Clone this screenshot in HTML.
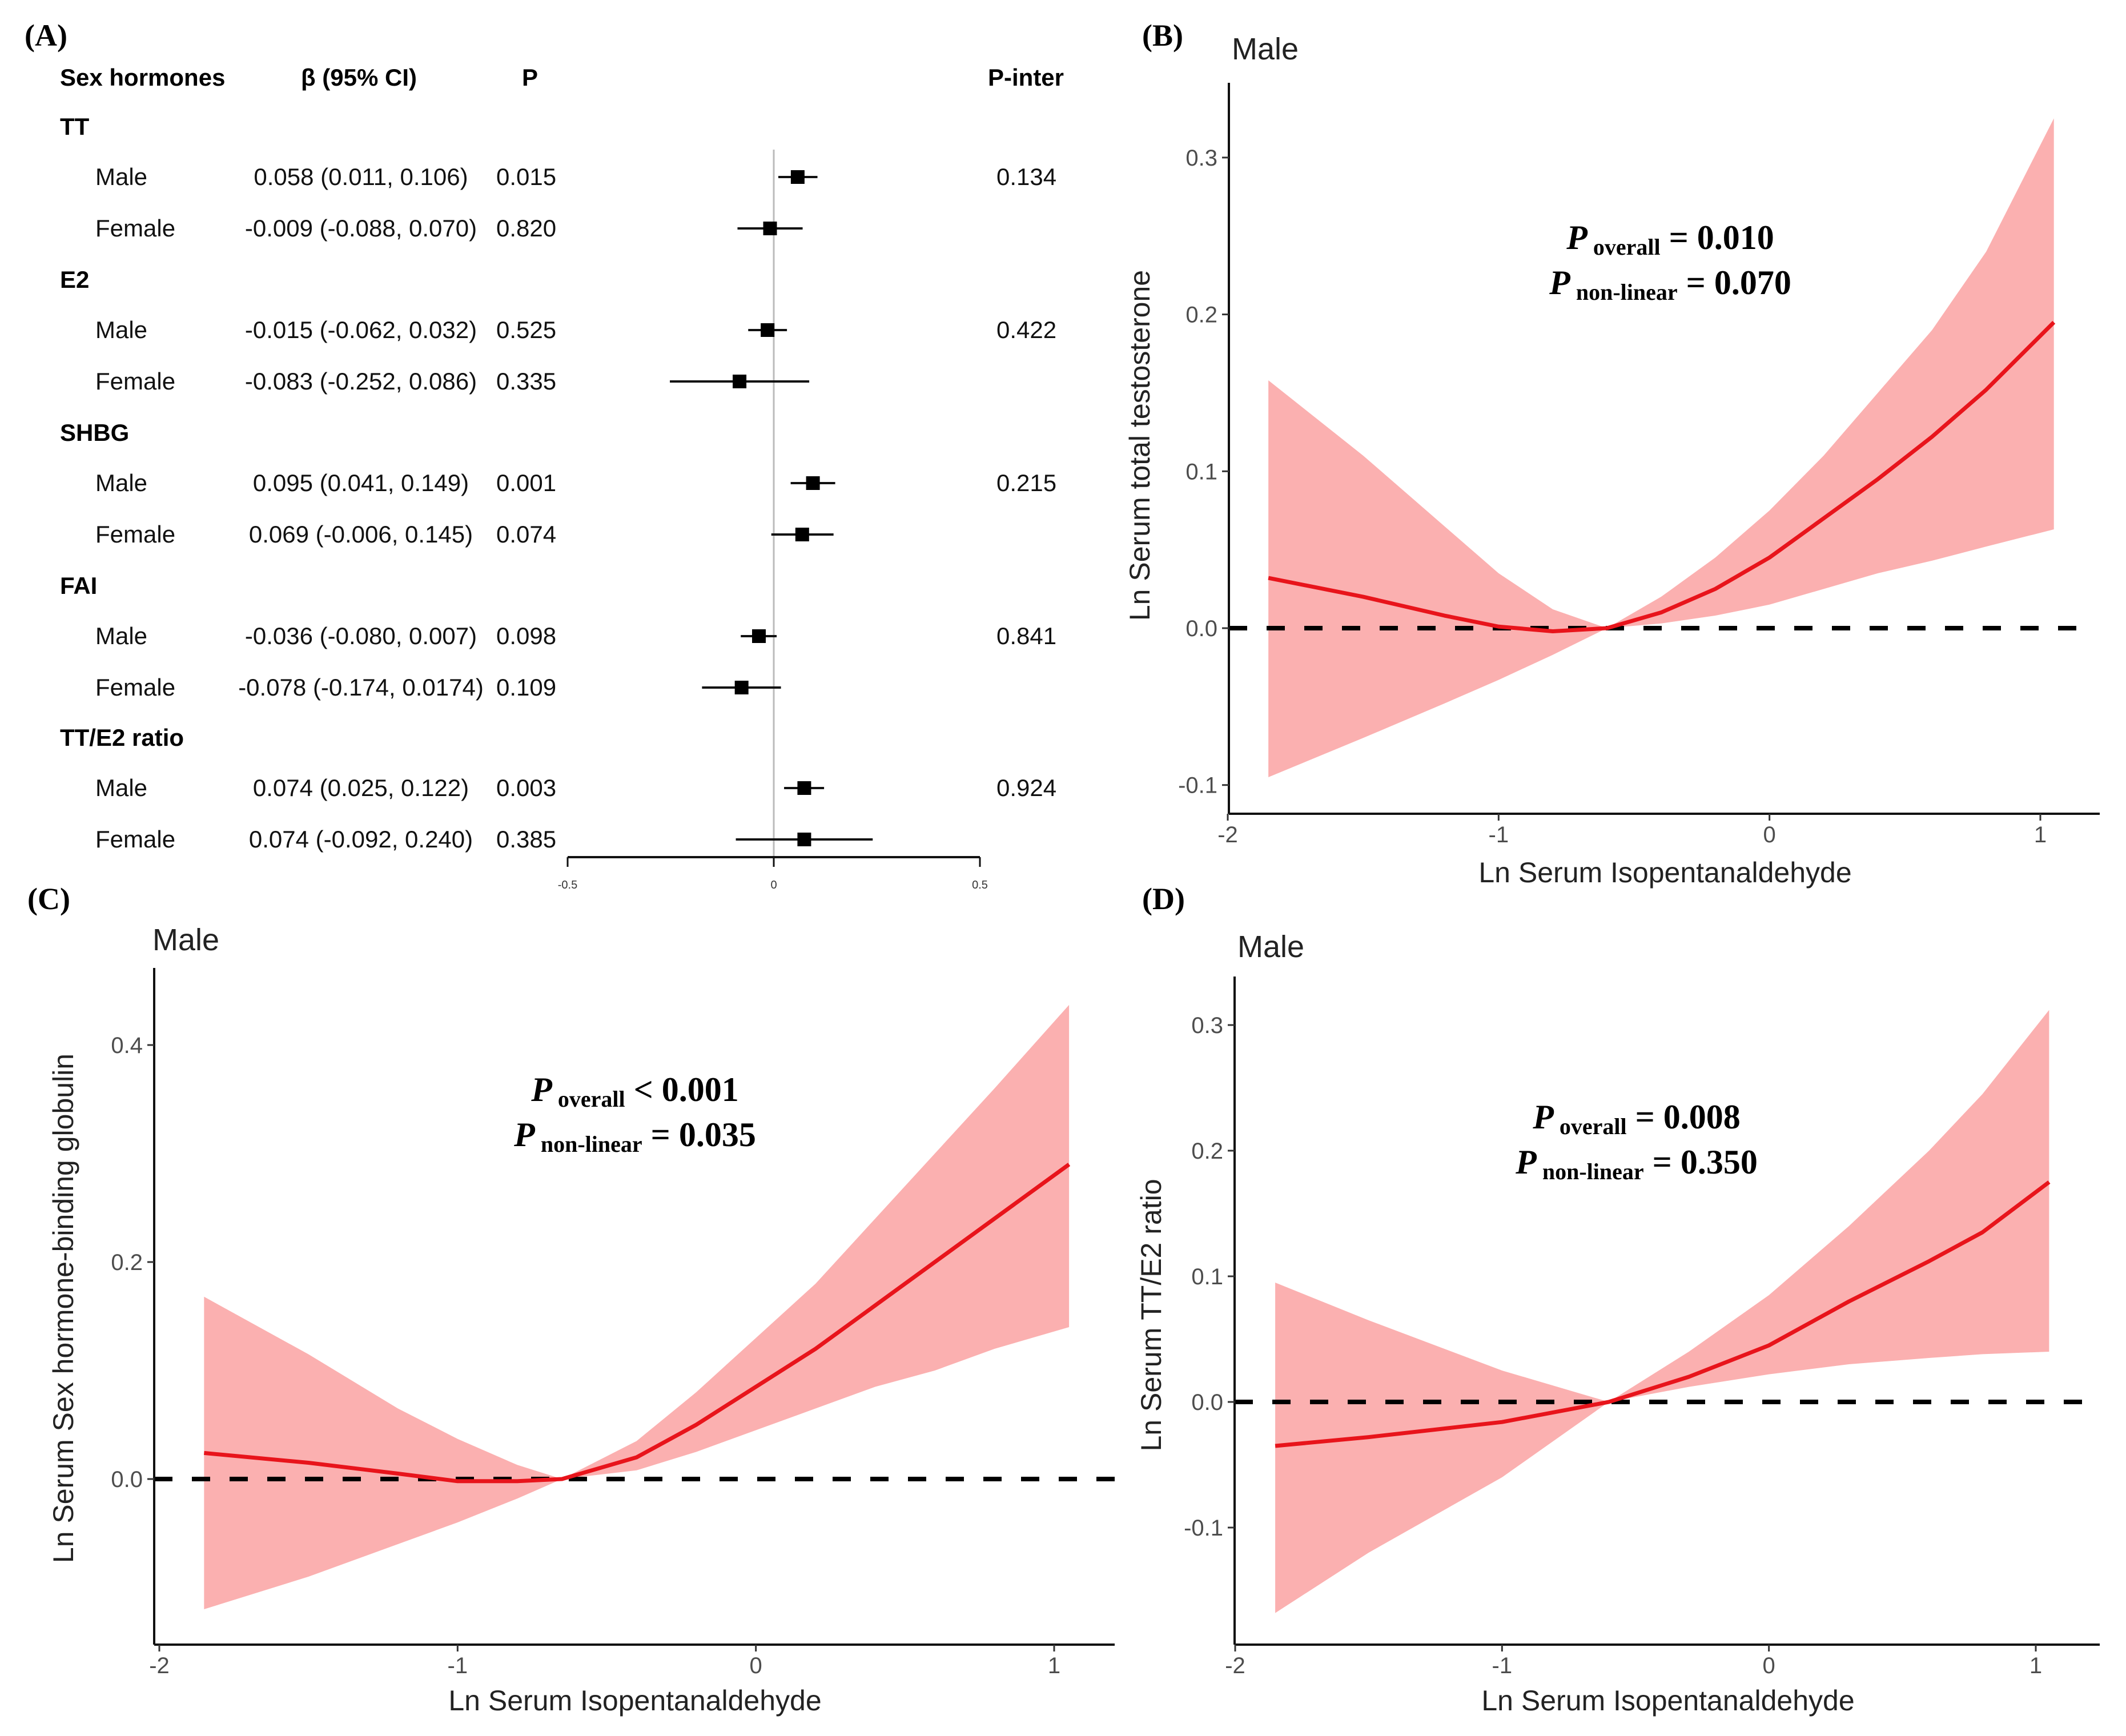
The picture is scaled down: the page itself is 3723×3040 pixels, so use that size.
<!DOCTYPE html>
<html><head><meta charset="utf-8"><style>
html,body{margin:0;padding:0;background:#fff;}
svg{display:block;}
.sans{font-family:"Liberation Sans",Arial,sans-serif;}
.serif{font-family:"Liberation Serif","Times New Roman",serif;}
</style></head><body>
<svg id="fig" width="3723" height="3040" viewBox="0 0 3723 3040" xmlns="http://www.w3.org/2000/svg">
<rect width="3723" height="3040" fill="#fff"/>
<g id="panelA"></g>
<g id="panelB"></g>
<g id="panelC"></g>
<g id="panelD"></g>
</svg>
<script>
// ---- Forest plot data ----
const groups = ["TT","E2","SHBG","FAI","TT/E2 ratio"];
const sexes = ["Male","Female"];
const betas = [0.058,-0.009,-0.015,-0.083,0.095,0.069,-0.036,-0.078,0.074,0.074];
const ciLow = [0.011,-0.088,-0.062,-0.252,0.041,-0.006,-0.080,-0.174,0.025,-0.092];
const ciHigh = [0.106,0.070,0.032,0.086,0.149,0.145,0.007,0.0174,0.122,0.240];
const betaText = ["0.058 (0.011, 0.106)","-0.009 (-0.088, 0.070)","-0.015 (-0.062, 0.032)","-0.083 (-0.252, 0.086)","0.095 (0.041, 0.149)","0.069 (-0.006, 0.145)","-0.036 (-0.080, 0.007)","-0.078 (-0.174, 0.0174)","0.074 (0.025, 0.122)","0.074 (-0.092, 0.240)"];
const pVals = ["0.015","0.820","0.525","0.335","0.001","0.074","0.098","0.109","0.003","0.385"];
const pInter = ["0.134","0.422","0.215","0.841","0.924"];
const forestTicks = [-0.5,0,0.5];
const forestTickLabels = ["-0.5","0","0.5"];

// ---- Panel B ----
const bX = [-1.85,-1.5,-1.2,-1.0,-0.8,-0.6,-0.4,-0.2,0,0.2,0.4,0.6,0.8,1.05];
const bFit = [0.032,0.02,0.008,0.001,-0.002,0.0,0.01,0.025,0.045,0.07,0.095,0.122,0.152,0.195];
const bUp = [0.158,0.11,0.065,0.035,0.012,0.0,0.02,0.045,0.075,0.11,0.15,0.19,0.24,0.325];
const bLo = [-0.095,-0.07,-0.048,-0.033,-0.017,0.0,0.003,0.008,0.015,0.025,0.035,0.043,0.052,0.063];
const bYTicks = [-0.1,0,0.1,0.2,0.3];
const bYLabels = ["-0.1","0.0","0.1","0.2","0.3"];
// ---- Panel C ----
const cX = [-1.85,-1.5,-1.2,-1.0,-0.8,-0.65,-0.4,-0.2,0,0.2,0.4,0.6,0.8,1.05];
const cFit = [0.024,0.015,0.005,-0.002,-0.002,0,0.02,0.05,0.085,0.12,0.16,0.2,0.24,0.29];
const cUp = [0.168,0.115,0.065,0.037,0.013,0,0.035,0.08,0.13,0.18,0.24,0.3,0.36,0.437];
const cLo = [-0.12,-0.09,-0.06,-0.04,-0.018,0,0.008,0.025,0.045,0.065,0.085,0.1,0.12,0.14];
const cYTicks = [0,0.2,0.4];
const cYLabels = ["0.0","0.2","0.4"];
// ---- Panel D ----
const dX = [-1.85,-1.5,-1.0,-0.6,-0.3,0,0.3,0.6,0.8,1.05];
const dFit = [-0.035,-0.028,-0.016,0,0.02,0.045,0.08,0.112,0.135,0.175];
const dUp = [0.095,0.065,0.025,0,0.04,0.085,0.14,0.2,0.245,0.312];
const dLo = [-0.168,-0.12,-0.06,0,0.012,0.022,0.03,0.035,0.038,0.04];
const dYTicks = [-0.1,0,0.1,0.2,0.3];
const dYLabels = ["-0.1","0.0","0.1","0.2","0.3"];
const xTicks = [-2,-1,0,1];
const xTickLabels = ["-2","-1","0","1"];

const NS="http://www.w3.org/2000/svg";
function mk(parent,tag,attrs,text){const e=document.createElementNS(NS,tag);for(const k in attrs)e.setAttribute(k,attrs[k]);if(text!==undefined)e.textContent=text;parent.appendChild(e);return e;}

// ---- Forest plot ----
(function(){
  const g=document.getElementById('panelA');
  const fx=v=>1355+(v)*(1716-1355)/0.5;
  let t;
  t=mk(g,'text',{x:43,y:80,'font-size':54,'font-weight':'bold',class:'serif'},'(A)');
  
  const hdr=[[105,'Sex hormones'],[527,'β (95% CI)'],[914,'P'],[1730,'P-inter']];
  hdr.forEach(h=>{const e=mk(g,'text',{x:h[0],y:150,'font-size':42,'font-weight':'bold',class:'sans'},h[1]);
    });
  const zl=mk(g,'line',{x1:fx(0),x2:fx(0),y1:262,y2:1501,stroke:'#bbb','stroke-width':3});
  
  const groupY=[222,490,758,1026,1292];
  groups.forEach((gn,gi)=>{
    const e=mk(g,'text',{x:105,y:groupY[gi]+14,'font-size':42,'font-weight':'bold',class:'sans'},gn);
    
    sexes.forEach((s,si)=>{
      const i=gi*2+si;
      const y=groupY[gi]+88+si*90;
      const a=mk(g,'text',{x:167,y:y+14,'font-size':42,class:'sans',fill:'#111'},s);
      
      const b=mk(g,'text',{x:632,y:y+14,'font-size':42,class:'sans','text-anchor':'middle',fill:'#111'},betaText[i]);
      
      const p=mk(g,'text',{x:869,y:y+14,'font-size':42,class:'sans',fill:'#111'},pVals[i]);
      
      const ci=mk(g,'line',{x1:fx(ciLow[i]),x2:fx(ciHigh[i]),y1:y,y2:y,stroke:'#111','stroke-width':4});
      
      const sq=mk(g,'rect',{x:fx(betas[i])-12,y:y-12,width:24,height:24,fill:'#000'});
      
      if(si===0){const pi=mk(g,'text',{x:1745,y:y+14,'font-size':42,class:'sans',fill:'#111'},pInter[gi]);
        }
    });
  });
  const ax=mk(g,'line',{x1:fx(-0.5),x2:fx(0.5),y1:1501,y2:1501,stroke:'#111','stroke-width':4});
  
  forestTicks.forEach((v,k)=>{
    const tk=mk(g,'line',{x1:fx(v),x2:fx(v),y1:1501,y2:1518,stroke:'#111','stroke-width':3});
    
    const tl=mk(g,'text',{x:fx(v),y:1556,'font-size':20,class:'sans','text-anchor':'middle',fill:'#333'},forestTickLabels[k]);
    
  });
})();

// ---- Spline panels ----
function spline(id,cfg){
  const g=document.getElementById(id);
  const sx=v=>cfg.xm2+(v+2)*(cfg.x1-cfg.xm2)/3;
  const sy=v=>cfg.y0-v*cfg.ppu;
  let e;
  e=mk(g,'text',{x:cfg.letter[0],y:cfg.letter[1],'font-size':54,'font-weight':'bold',class:'serif'},cfg.letterText);
  
  e=mk(g,'text',{x:cfg.title[0],y:cfg.title[1],'font-size':54,class:'sans',fill:'#222'},'Male');
  
  let d='M'+cfg.X.map((x,i)=>sx(x)+','+sy(cfg.U[i])).join(' L');
  d+=' L'+cfg.X.slice().reverse().map((x,i)=>sx(x)+','+sy(cfg.L[cfg.L.length-1-i])).join(' L')+' Z';
  e=mk(g,'path',{d:d,fill:'#fbb0b0'});
  
  e=mk(g,'line',{x1:cfg.ax,x2:cfg.dashEnd,y1:sy(0),y2:sy(0),stroke:'#000','stroke-width':8,'stroke-dasharray':'32 34'});
  
  e=mk(g,'polyline',{points:cfg.X.map((x,i)=>sx(x)+','+sy(cfg.F[i])).join(' '),fill:'none',stroke:'#e8141b','stroke-width':7,'stroke-linejoin':'round'});
  
  e=mk(g,'line',{x1:cfg.ax,x2:cfg.ax,y1:cfg.top,y2:cfg.axY,stroke:'#111','stroke-width':4});
  
  e=mk(g,'line',{x1:cfg.ax,x2:cfg.right,y1:cfg.axY,y2:cfg.axY,stroke:'#111','stroke-width':4});
  
  cfg.yT.forEach((v,k)=>{
    e=mk(g,'line',{x1:cfg.ax-12,x2:cfg.ax,y1:sy(v),y2:sy(v),stroke:'#333','stroke-width':3});
    
    e=mk(g,'text',{x:cfg.ax-20,y:sy(v)+14,'font-size':40,class:'sans','text-anchor':'end',fill:'#4d4d4d'},cfg.yL[k]);
    
  });
  xTicks.forEach((v,k)=>{
    e=mk(g,'line',{x1:sx(v),x2:sx(v),y1:cfg.axY,y2:cfg.axY+12,stroke:'#333','stroke-width':3});
    
    e=mk(g,'text',{x:sx(v),y:cfg.axY+50,'font-size':40,class:'sans','text-anchor':'middle',fill:'#4d4d4d'},xTickLabels[k]);
    
  });
  e=mk(g,'text',{x:cfg.xt[0],y:cfg.xt[1],'font-size':50,class:'sans','text-anchor':'middle',fill:'#222'},'Ln Serum Isopentanaldehyde');
  
  e=mk(g,'text',{x:cfg.yt[0],y:cfg.yt[1],'font-size':50,class:'sans','text-anchor':'middle',fill:'#222',transform:'rotate(-90 '+cfg.yt[0]+' '+cfg.yt[1]+')'},cfg.ytText);
  
  const a=cfg.ann;
  e=mk(g,'text',{x:a[0],y:a[1],'font-size':60,'font-weight':'bold',class:'serif','text-anchor':'middle'});
  
  mk(e,'tspan',{'font-style':'italic'},'P');
  mk(e,'tspan',{'font-size':40,dy:10},' overall');
  mk(e,'tspan',{dy:-10},' '+cfg.p1);
  e=mk(g,'text',{x:a[0],y:a[1]+79,'font-size':60,'font-weight':'bold',class:'serif','text-anchor':'middle'});
  
  mk(e,'tspan',{'font-style':'italic'},'P');
  mk(e,'tspan',{'font-size':40,dy:10},' non-linear');
  mk(e,'tspan',{dy:-10},' = '+cfg.p2);
}
spline('panelB',{X:bX,F:bFit,U:bUp,L:bLo,yT:bYTicks,yL:bYLabels,xm2:2150,x1:3573,y0:1100,ppu:2747,ax:2152,top:145,axY:1425,right:3677,dashEnd:3650,
  letter:[2000,80],letterText:'(B)',title:[2157,104],xt:[2916,1545],yt:[2013,780],ytText:'Ln Serum total testosterone',ann:[2925,436],p1:'= 0.010',p2:'0.070'});
spline('panelC',{X:cX,F:cFit,U:cUp,L:cLo,yT:cYTicks,yL:cYLabels,xm2:279,x1:1846,y0:2590,ppu:1900,ax:270,top:1695,axY:2880,right:1952,dashEnd:1952,
  letter:[48,1592],letterText:'(C)',title:[267,1664],xt:[1112,2995],yt:[128,2291],ytText:'Ln Serum Sex hormone-binding globulin',ann:[1112,1928],p1:'< 0.001',p2:'0.035'});
spline('panelD',{X:dX,F:dFit,U:dUp,L:dLo,yT:dYTicks,yL:dYLabels,xm2:2163,x1:3565,y0:2455,ppu:2200,ax:2162,top:1710,axY:2880,right:3677,dashEnd:3650,
  letter:[2000,1592],letterText:'(D)',title:[2167,1676],xt:[2921,2995],yt:[2033,2303],ytText:'Ln Serum TT/E2 ratio',ann:[2866,1976],p1:'= 0.008',p2:'0.350'});
</script>
</body></html>
